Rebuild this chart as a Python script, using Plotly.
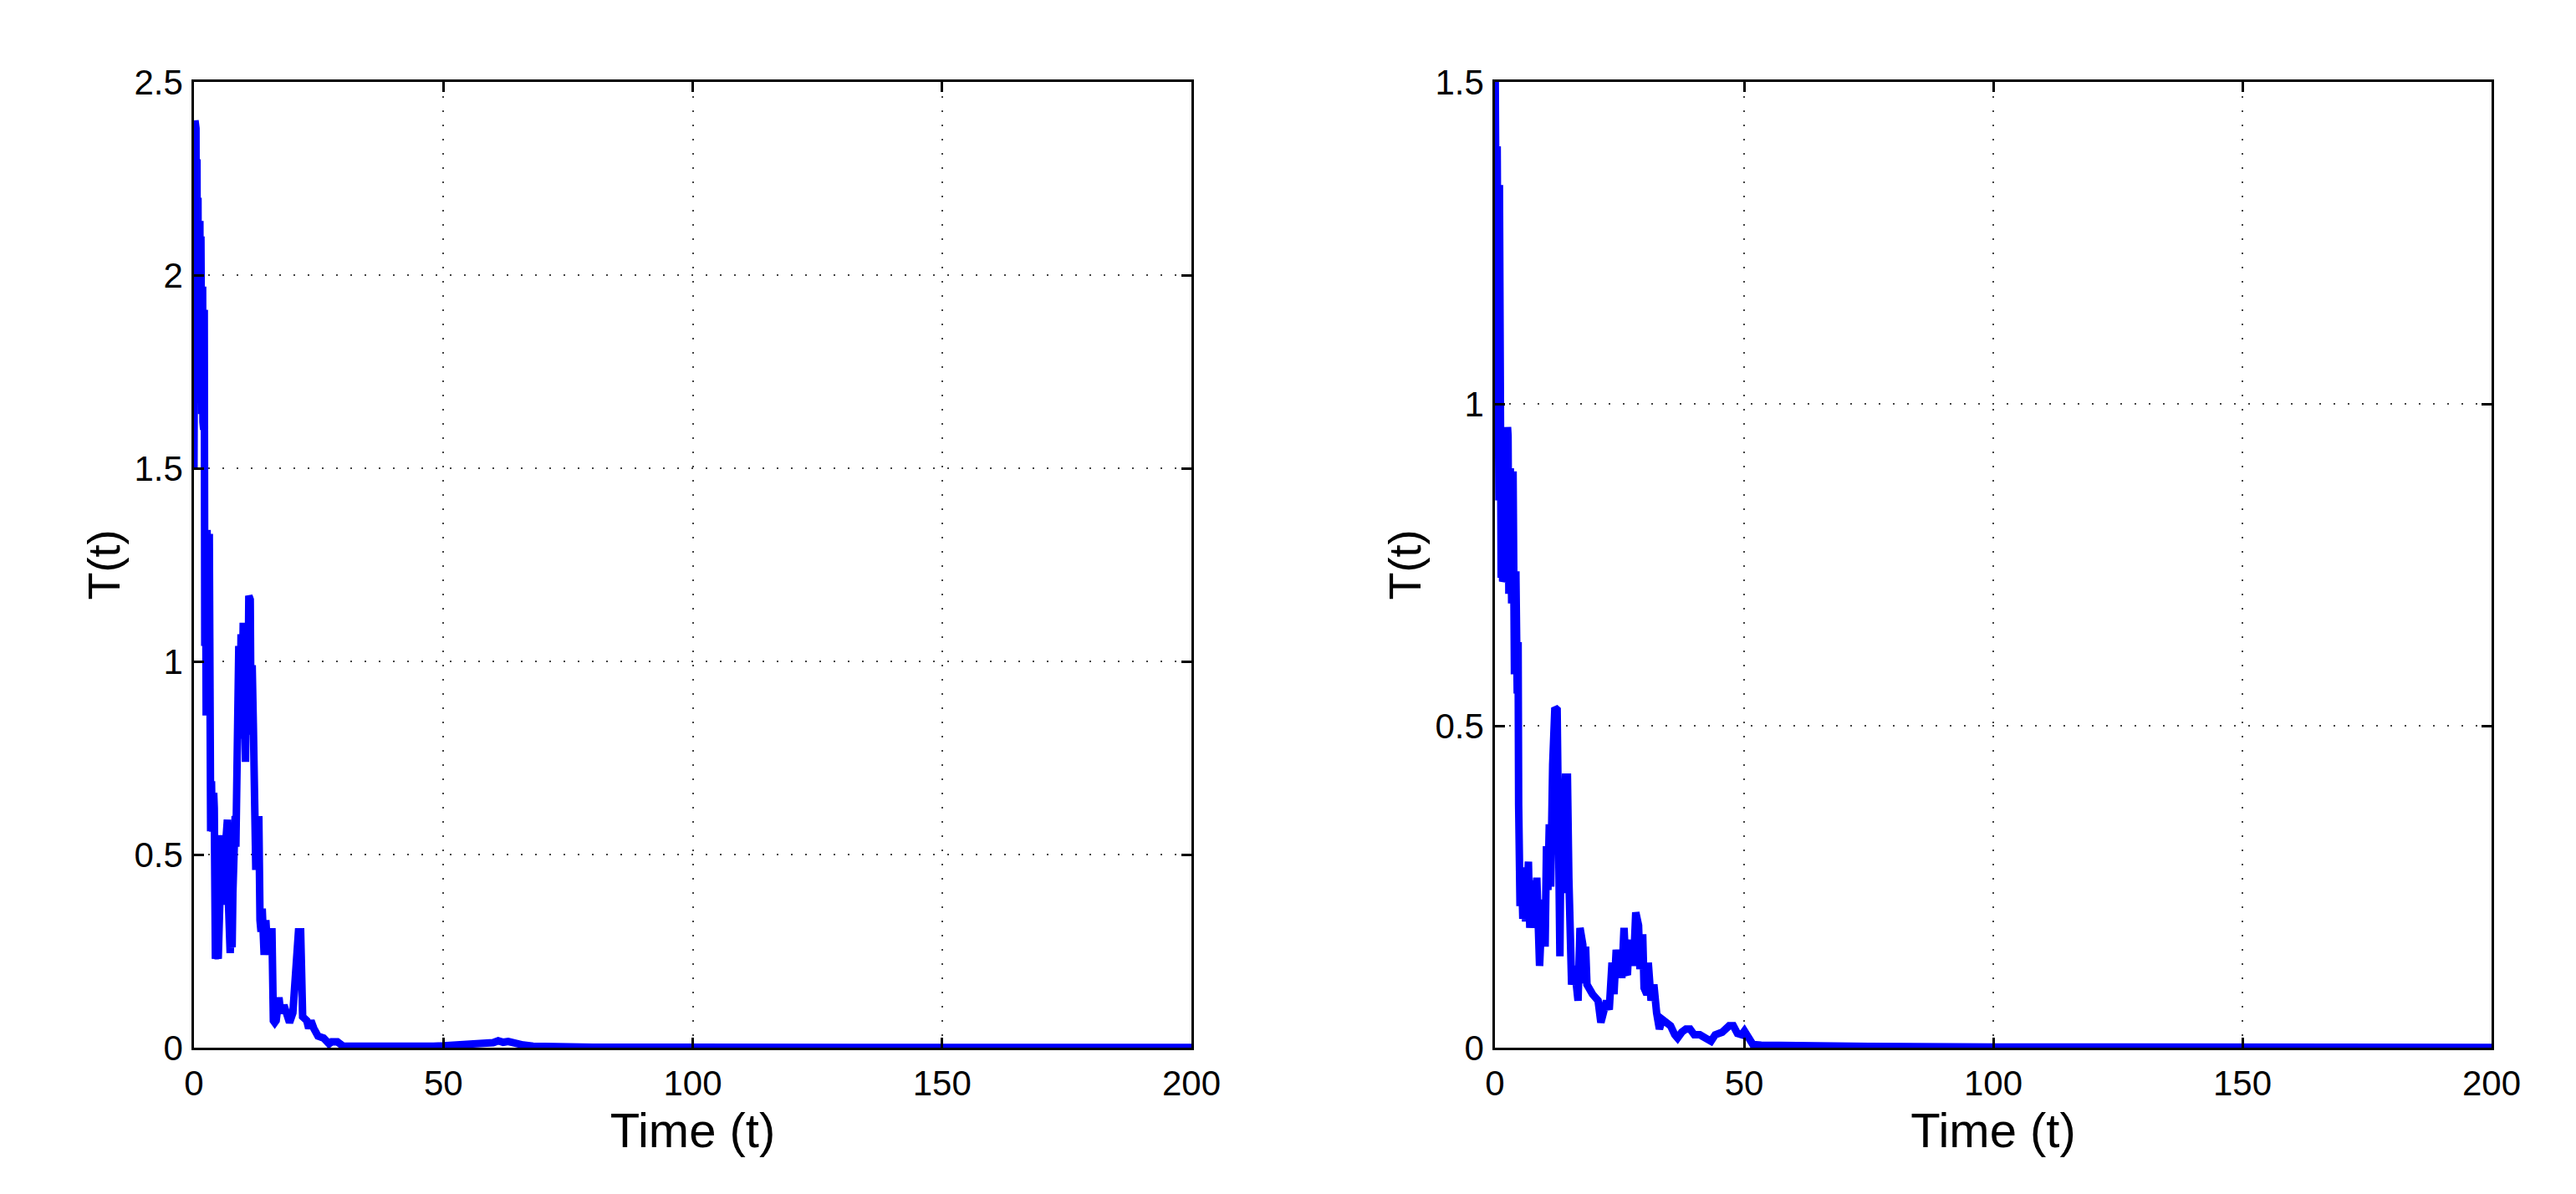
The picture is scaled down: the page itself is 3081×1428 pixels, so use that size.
import plotly.graph_objects as go

# ---------------- data ----------------
t_left = [0.00, 0.05, 0.12, 0.20, 0.30, 0.40, 0.50, 0.60, 0.70, 0.80, 0.90, 1.00, 1.08, 1.18, 1.28,
          1.39, 1.48, 1.56, 1.65, 1.73, 1.80, 1.88, 1.95,
          2.06, 2.17, 2.34, 2.45, 2.62, 2.85, 3.07, 3.18, 3.35, 3.51, 3.65, 3.79, 3.95, 4.07, 4.30,
          4.60, 4.86, 5.05, 5.19, 5.40, 5.58, 5.80, 5.97, 6.20, 6.42, 6.70, 6.85, 6.98, 7.26, 7.45,
          7.65, 7.80, 7.98, 8.26, 8.40, 8.54, 8.77, 8.99, 9.10, 9.21, 9.44, 9.66, 9.88, 10.05, 10.33,
          10.55, 10.78, 11.00, 11.28, 11.45, 11.67, 11.90, 12.01, 12.23, 12.40, 12.68, 13.01, 13.24,
          13.45, 13.68, 14.07, 14.41, 14.80, 15.19, 15.64, 15.92, 16.20, 16.48, 17.04, 17.30, 17.59,
          18.04, 18.60, 19.16, 19.83, 20.39, 20.95, 21.39, 21.79, 22.20, 22.62, 23.00, 23.46, 24.02,
          24.86, 25.98, 27.09, 27.60, 28.77, 29.89, 35, 40, 45, 48, 50, 53, 56, 58, 60, 61, 62, 63,
          64, 66, 68, 72, 80, 100, 150, 200]
T_left = [1.50, 2.40, 1.55, 2.40, 1.95, 2.38, 1.75, 2.30, 1.70, 2.20, 1.72, 2.14, 1.75, 2.14, 1.68,
          2.10, 1.70, 1.64, 1.95, 1.97, 1.62, 1.91, 1.60,
          1.91, 1.04, 1.25, 0.86, 1.34, 1.20, 1.33, 0.90, 0.56, 0.69, 0.58, 0.56, 0.66, 0.62, 0.23,
          0.25, 0.23, 0.35, 0.40, 0.50, 0.55, 0.45, 0.37, 0.50, 0.55, 0.59, 0.40, 0.30, 0.245, 0.30,
          0.26, 0.40, 0.55, 0.60, 0.52, 0.73, 0.72, 1.04, 0.85, 0.80, 1.07, 0.90, 1.10, 0.74, 0.74,
          1.00, 0.83, 1.17, 1.16, 0.81, 0.99, 0.84, 0.60, 0.84, 0.46, 0.59, 0.59, 0.33,
          0.30, 0.36, 0.24, 0.33, 0.24, 0.30, 0.30, 0.07, 0.065, 0.07, 0.13, 0.10, 0.09,
          0.11, 0.08, 0.065, 0.09, 0.22, 0.30, 0.30, 0.08, 0.075, 0.07, 0.05, 0.07, 0.05,
          0.03, 0.025, 0.01, 0.015, 0.015, 0.004, 0.003, 0.002, 0.002, 0.004, 0.005, 0.008, 0.007,
          0.009, 0.013, 0.018, 0.014, 0.016, 0.012, 0.007, 0.004, 0.002, 0.001, 0.001, 0.0005, 0.0003]

t_right = [0.00, 0.06, 0.15, 0.25, 0.35, 0.45, 0.57, 0.70, 0.80, 0.90, 1.00, 1.12, 1.25, 1.40, 1.55,
           1.68, 1.80, 1.96, 2.24, 2.52,
           2.63, 2.80, 3.08, 3.36, 3.64, 3.92, 4.20, 4.48, 4.65, 4.76, 5.04, 5.32, 5.60, 5.88, 6.16,
           6.72, 7.00, 7.28, 7.84, 8.40, 8.96, 9.52, 10.07, 10.35, 10.63, 10.91, 11.19, 11.59, 12.03,
           12.48, 12.70, 13.04, 13.26, 13.60, 14.16, 14.55, 14.83, 15.11, 15.39, 15.95, 16.40, 16.68,
           17.07, 17.63, 17.91, 18.19, 18.47, 19.03, 19.59, 20.14, 20.70, 21.26, 21.82, 22.38, 22.94,
           23.22, 23.50, 23.89, 24.34, 24.90, 25.18, 25.46, 25.91, 26.30, 26.58, 26.86, 27.42, 27.81,
           28.26, 28.82, 29.10, 29.65, 29.93, 30.49, 30.77, 31.33, 31.89, 32.45, 33.01, 33.57, 34.41,
           35.25, 36.09, 36.65, 37.49, 38.33, 39.16, 40.00, 41.12, 42.24, 43.36, 44.20, 45.60, 47.00,
           47.84, 48.67, 49.51, 50.07, 50.91, 51.75, 53.43, 60.14, 67.97, 75, 100, 150, 200]
T_right = [1.10, 1.50, 1.12, 1.48, 1.10, 1.40, 1.09, 1.355, 0.85, 1.34, 0.75, 1.00, 0.73, 0.95, 0.724,
           0.93, 0.73, 0.925, 0.83, 0.964,
           0.95, 0.705, 0.90, 0.69, 0.895, 0.58, 0.74, 0.55, 0.63, 0.377, 0.22, 0.28, 0.20, 0.274, 0.196,
           0.289, 0.186, 0.26, 0.186, 0.264, 0.127, 0.23, 0.157, 0.313, 0.245, 0.347, 0.25, 0.44, 0.528,
           0.525, 0.26, 0.142, 0.352, 0.24, 0.42, 0.42, 0.264, 0.16, 0.098, 0.127, 0.098, 0.073,
           0.186, 0.16, 0.10, 0.157, 0.098, 0.088, 0.083, 0.078, 0.073, 0.039, 0.064, 0.073, 0.059,
           0.10, 0.132, 0.083, 0.152, 0.127, 0.152, 0.108, 0.186, 0.117, 0.113, 0.157, 0.166, 0.127,
           0.21, 0.19, 0.122, 0.176, 0.093, 0.083, 0.132, 0.073, 0.098, 0.054, 0.029, 0.044, 0.039,
           0.034, 0.02, 0.015, 0.024, 0.029, 0.029, 0.02, 0.02, 0.015, 0.01, 0.02, 0.024, 0.034,
           0.034, 0.022, 0.02, 0.026, 0.015, 0.005, 0.004, 0.003, 0.004, 0.002, 0.001, 0.0005, 0.0003]

x_ticks = [0, 50, 100, 150, 200]
y_ticks_left = [0, 0.5, 1, 1.5, 2, 2.5]
y_ticks_right = [0, 0.5, 1, 1.5]
x_title = "Time (t)"
y_title = "T(t)"

# ---------------- figure ----------------
FONT = "Liberation Sans, Arial, Helvetica, sans-serif"
BLUE = "rgb(0,0,255)"

fig = go.Figure()
fig.add_trace(go.Scatter(x=t_left, y=T_left, mode="lines", xaxis="x", yaxis="y",
                         line=dict(color=BLUE, width=9), showlegend=False))
fig.add_trace(go.Scatter(x=t_right, y=T_right, mode="lines", xaxis="x2", yaxis="y2",
                         line=dict(color=BLUE, width=9), showlegend=False))

def fmt(v):
    return ("%g" % v)

common_axis = dict(
    showline=True, linecolor="black", linewidth=2.5, mirror="ticks",
    ticks="inside", ticklen=12, tickwidth=2.5, tickcolor="black",
    showgrid=True, gridcolor="#444444", gridwidth=2, griddash="2px,15px",
    zeroline=False, automargin=False,
    tickfont=dict(family=FONT, size=42, color="black"),
)

W, H = 3081, 1428
# the page shows the figure offset by the 8 px body margin
yd = [183 / H, 1338 / H]
xtitle_font = dict(family=FONT, size=58, color="black")
ytitle_font = dict(family=FONT, size=54, color="black")

fig.update_layout(
    width=W, height=H,
    margin=dict(l=0, r=0, t=0, b=0),
    paper_bgcolor="white", plot_bgcolor="white",
    xaxis=dict(common_axis, domain=[224 / W, 1417 / W], range=[0, 200],
               tickvals=x_ticks, ticktext=[fmt(v) for v in x_ticks], ticklabelstandoff=4,
               title=dict(text=x_title, font=xtitle_font, standoff=10),
               anchor="y"),
    yaxis=dict(common_axis, domain=yd, range=[0, 2.5],
               tickvals=y_ticks_left, ticktext=[fmt(v) for v in y_ticks_left], ticklabelstandoff=2,
               title=dict(text=y_title, font=ytitle_font, standoff=0),
               anchor="x"),
    xaxis2=dict(common_axis, domain=[1780 / W, 2972 / W], range=[0, 200],
                tickvals=x_ticks, ticktext=[fmt(v) for v in x_ticks], ticklabelstandoff=4,
                title=dict(text=x_title, font=xtitle_font, standoff=10),
                anchor="y2"),
    yaxis2=dict(common_axis, domain=yd, range=[0, 1.5],
                tickvals=y_ticks_right, ticktext=[fmt(v) for v in y_ticks_right], ticklabelstandoff=2,
                title=dict(text=y_title, font=ytitle_font, standoff=0),
                anchor="x2"),
)

fig.write_html("out.html")
